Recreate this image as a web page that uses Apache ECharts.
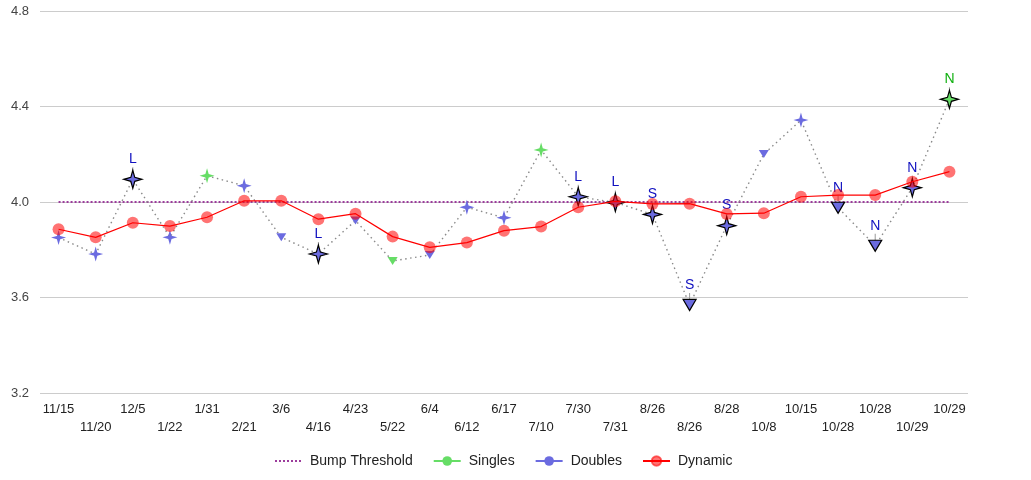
<!DOCTYPE html>
<html><head><meta charset="utf-8">
<script src="https://cdn.jsdelivr.net/npm/echarts@6/dist/echarts.min.js"></script>
<style>html,body{margin:0;padding:0;background:#fff}#c{width:1031px;height:480px}</style>
</head><body><div id="c"></div>
<script>
const categories = ['11/15','11/20','12/5','1/22','1/31','2/21','3/6','4/16','4/23','5/22','6/4','6/12','6/17','7/10','7/30','7/31','8/26','8/26','8/28','10/8','10/15','10/28','10/28','10/29','10/29'];
const scores = [3.851,3.782,4.095,3.852,4.110,4.068,3.852,3.782,3.922,3.753,3.778,3.978,3.934,4.218,4.022,3.998,3.948,3.569,3.901,4.201,4.343,3.976,3.817,4.060,4.430];
const dynamicScores = [3.886,3.852,3.913,3.899,3.936,4.005,4.005,3.928,3.951,3.855,3.810,3.830,3.880,3.897,3.978,4.003,3.992,3.993,3.950,3.953,4.022,4.029,4.029,4.085,4.127];
const gameTypes = ['D','D','D','D','S','D','D','D','D','S','D','D','D','S','D','D','D','D','D','D','D','D','D','D','S'];
const shapes = ['star','star','star','star','star','star','tri','star','tri','tri','tri','star','star','star','star','star','star','tri','star','tri','star','tri','tri','star','star'];
const notes = ['','','L','','','','','L','','','','','','','L','L','S','S','S','','','N','N','N','N'];
const bumpThreshold = 4.0;
const yTicks = [3.2, 3.6, 4.0, 4.4, 4.8];

const FONT = "'Liberation Sans', Arial, sans-serif";
const STAR = 'path://M0,-10 L2.2,-2.2 L10,0 L2.2,2.2 L0,10 L-2.2,2.2 L-10,0 L-2.2,-2.2 Z';
const TRI = 'path://M-10,-6 L10,-6 L0,11 Z';
const COLORS = { S: '#66dd66', D: '#6b6be0' };

function markerData(type) {
  return scores.map((v, i) => {
    if (gameTypes[i] !== type) return '-';
    const hl = notes[i] !== '';
    const isStar = shapes[i] === 'star';
    return {
      value: v,
      symbol: isStar ? STAR : TRI,
      symbolSize: isStar ? (hl ? 18 : 15) : (hl ? [13, 11] : [10, 8]),
      itemStyle: hl ? { borderColor: '#000', borderWidth: 1.2 } : {}
    };
  });
}

const chart = echarts.init(document.getElementById('c'));
chart.setOption({
  animation: false,
  textStyle: { fontFamily: FONT },
  grid: { left: 40, right: 63, top: 11, bottom: 87, containLabel: false },
  legend: {
    left: 269, top: 449,
    itemWidth: 27, itemHeight: 12, itemGap: 20,
    selectedMode: false,
    textStyle: { fontSize: 14, color: '#222', fontFamily: FONT, padding: [0, 0, 0, 3] },
    data: [
      { name: 'Bump Threshold', itemStyle: { opacity: 0 } },
      { name: 'Singles', lineStyle: { width: 2, color: COLORS.S } },
      { name: 'Doubles', lineStyle: { width: 2, color: COLORS.D } },
      { name: 'Dynamic', itemStyle: { borderWidth: 2, borderColor: 'rgba(255,0,0,0.55)' } }
    ]
  },
  xAxis: {
    type: 'category', data: categories, boundaryGap: true,
    axisLine: { show: false }, axisTick: { show: false },
    axisLabel: {
      interval: 0, margin: 7, fontSize: 13, color: '#222', lineHeight: 18, fontFamily: FONT,
      formatter: (v, i) => (i % 2 ? '\n' + v : v)
    }
  },
  yAxis: {
    type: 'value', min: yTicks[0], max: yTicks[yTicks.length - 1], interval: 0.4,
    axisLine: { show: false }, axisTick: { show: false },
    splitLine: { lineStyle: { color: '#cccccc', width: 1 } },
    axisLabel: { fontSize: 13, color: '#444', margin: 11, fontFamily: FONT, formatter: v => v.toFixed(1) }
  },
  series: [
    {
      name: 'Bump Threshold', type: 'line', data: categories.map(() => bumpThreshold),
      symbol: 'none', silent: true, z: 2,
      lineStyle: { color: '#9c3d9c', width: 2, type: [2, 2] }, itemStyle: { color: '#9c3d9c' }
    },
    {
      name: 'trend', type: 'line', data: scores, symbol: 'none', silent: true, z: 3,
      lineStyle: { color: '#8a8a8a', width: 1.4, type: [1.5, 3.5] }
    },
    {
      name: 'notes', type: 'scatter', z: 4, silent: true,
      data: scores.map((v, i) => notes[i] ? { value: v, label: { color: gameTypes[i] === 'S' ? '#10b010' : '#1010c0' } } : '-'),
      symbol: 'rect', symbolSize: [1, 12], symbolOffset: [0, -6],
      itemStyle: { color: '#999', opacity: 1 },
      label: { show: true, position: 'top', distance: 1, fontSize: 14, fontFamily: FONT, formatter: p => notes[p.dataIndex] }
    },
    {
      name: 'Singles', type: 'line', data: markerData('S'), symbol: 'circle', z: 5, silent: true,
      showSymbol: true, showAllSymbol: true,
      lineStyle: { width: 0 }, itemStyle: { color: COLORS.S }
    },
    {
      name: 'Doubles', type: 'line', data: markerData('D'), symbol: 'circle', z: 5, silent: true,
      showSymbol: true, showAllSymbol: true,
      lineStyle: { width: 0 }, itemStyle: { color: COLORS.D }
    },
    {
      name: 'Dynamic', type: 'line', data: dynamicScores, symbol: 'circle', symbolSize: 12, z: 6, silent: true,
      showAllSymbol: true,
      lineStyle: { color: '#ff0000', width: 1.2 }, itemStyle: { color: 'rgba(255,0,0,0.55)' }
    }
  ]
});
</script></body></html>
